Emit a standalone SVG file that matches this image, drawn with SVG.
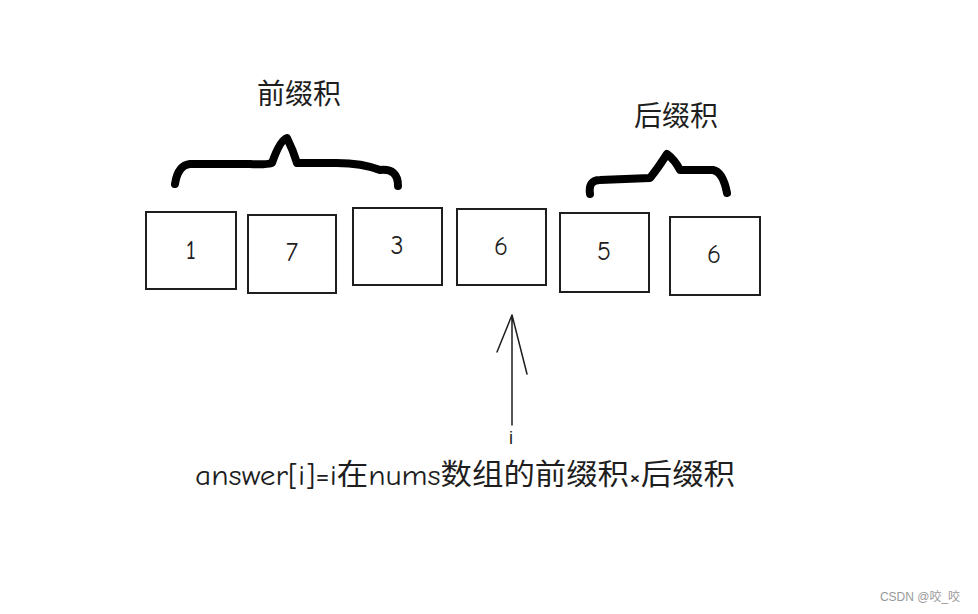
<svg xmlns="http://www.w3.org/2000/svg" width="978" height="614" viewBox="0 0 978 614">
<style>
.box{fill:#fff;stroke:#1e1e1e;stroke-width:2}
.num{font-family:"Comic Neue","Liberation Sans",sans-serif;font-size:26px;fill:#1e1e1e;text-anchor:middle}
.lbl{font-family:"Liberation Sans","Noto Sans CJK SC",sans-serif;font-size:28px;fill:#1e1e1e;text-anchor:middle}
.brace{fill:none;stroke:#000;stroke-width:8;stroke-linecap:round;stroke-linejoin:round}
</style>
<rect width="978" height="614" fill="#fff"/>
<g id="n1"><rect class="box" x="146" y="212" width="90" height="77"/><text class="num" x="191" y="259">1</text></g>
<g id="n2"><rect class="box" x="248" y="215" width="88" height="78"/><text class="num" x="292" y="261">7</text></g>
<g id="n3"><rect class="box" x="353" y="208" width="89" height="77"/><text class="num" x="397" y="254">3</text></g>
<g id="n4"><rect class="box" x="457" y="209" width="89" height="76"/><text class="num" x="501" y="255">6</text></g>
<g id="n5"><rect class="box" x="560" y="213" width="89" height="79"/><text class="num" x="604" y="260">5</text></g>
<g id="n6"><rect class="box" x="670" y="217" width="90" height="78"/><text class="num" x="714" y="263">6</text></g>
<g id="braces">
<path class="brace" d="M175,184 Q178,165 190,164 L250,164 Q265,165 272,163 Q280,140 287,138 Q293,150 297,163 L330,163 Q360,162 380,170 Q398,168 398,186"/>
<path class="brace" d="M590,194 Q588,180 600,180 L650,178 Q658,168 667,154 Q675,160 680,170 L713,170 Q723,172 727,193"/>
</g>
<g id="labels">
<text class="lbl" x="299" y="104">前缀积</text>
<text class="lbl" x="676" y="126">后缀积</text>
</g>
<g id="connectors">
<path d="M512,425 L512,315 M512,315 L497,352 M512,315 L527,374" fill="none" stroke="#1e1e1e" stroke-width="1.5" stroke-linecap="round"/>
</g>
<text x="511" y="444" font-family="Liberation Sans,sans-serif" font-size="18" text-anchor="middle" fill="#1e1e1e">i</text>
<text x="195" y="485" textLength="540" lengthAdjust="spacingAndGlyphs" font-family="Comic Neue,Liberation Sans,Noto Sans CJK SC,sans-serif" font-size="29" fill="#1e1e1e">answer[i]=i在nums数组的前缀积×后缀积</text>
<text x="920" y="601" font-family="Liberation Sans,Noto Sans CJK SC,sans-serif" font-size="12" text-anchor="middle" fill="#999">CSDN @咬_咬</text>
</svg>
